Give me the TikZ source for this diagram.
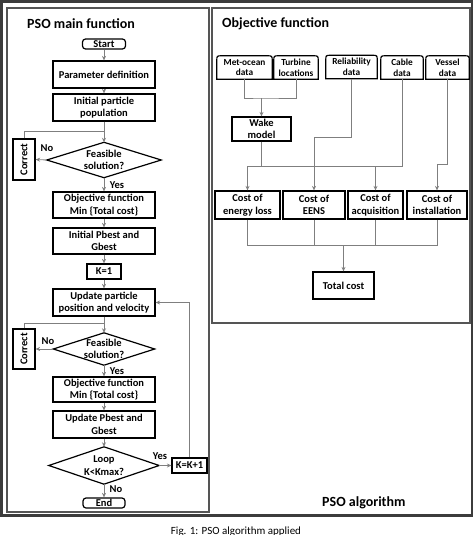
\documentclass[tikz,border=0pt]{standalone}
\usepackage{fontspec}
\setmainfont{Carlito}
\usepackage{graphicx}
\usetikzlibrary{arrows.meta}
\definecolor{conncol}{HTML}{7F7F7F}
\definecolor{framecol}{HTML}{3C3C3C}
\definecolor{panelcol}{HTML}{555555}
\newcommand\databox[1]{\draw[boxline] (#1.south west) -- ([yshift=-5pt]#1.north west) .. controls (#1.north west) .. ([xshift=5pt]#1.north west) -- ([xshift=-5pt]#1.north east) .. controls (#1.north east) .. ([yshift=-5pt]#1.north east) -- (#1.south east) -- cycle;}
\newcommand\diapath[1]{\draw[boxline] (#1.north) -- (#1.east) -- (#1.south) -- (#1.west) -- cycle;}
\begin{document}
\begin{tikzpicture}[x=1pt,y=-1pt,
  boxline/.style={draw=black,line width=1.2pt},
  box/.style 2 args={boxline, fill=white, align=center, inner sep=0pt, minimum width=#1pt, minimum height=#2pt, font=\bfseries\fontsize{10.5}{12.5}\selectfont},
  rbox/.style 2 args={box={#1}{#2}, rounded corners=3pt},
  dtxt/.style 2 args={align=center, inner sep=0pt, minimum width=#1pt, minimum height=#2pt, font=\bfseries\fontsize{9.3}{10.8}\selectfont},
  dia/.style 2 args={align=center, inner sep=0pt, minimum width=#1pt, minimum height=#2pt, font=\bfseries\fontsize{10.5}{12.5}\selectfont},
  conn/.style={draw=conncol, line width=0.8pt},
  arr/.style={conn, -{Stealth[length=4.5pt,width=4pt]}},
  lbl/.style={font=\bfseries\fontsize{10.5}{12}\selectfont, inner sep=0pt},
  ttl/.style={font=\bfseries\fontsize{14}{16}\selectfont, inner sep=0pt, anchor=west}]
\useasboundingbox (0,0) rectangle (474,535);
% frames
\draw[draw=framecol, line width=2.5pt] (1.5,1.5) rectangle (472,515.5);
\draw[draw=panelcol, line width=1.1pt] (7,8) rectangle (209,512);
\draw[draw=panelcol, line width=1.1pt] (212,8) rectangle (470,323);
% titles
\node[ttl] (t1) at (27,24) {PSO main function};
\node[ttl] (t2) at (222,24) {Objective function};
\node[ttl] (t3) at (322,503) {PSO algorithm};
\node[anchor=north, inner sep=0pt, font=\fontsize{11}{13}\selectfont] (cap) at (236,527) {Fig. 1: PSO algorithm applied};
% left column
\node[rbox={43}{10}] (start) at (104,44) {Start};
\node[box={102}{27}] (param) at (104,74.5) {Parameter definition};
\node[box={102}{27}] (init) at (104,107.5) {Initial particle\\population};
\node[dia={114}{35}] (f1) at (104,160) {Feasible\\solution?};
\diapath{f1}
\node[box={22}{41}] (c1) at (24,159.5) {\rotatebox{90}{Correct}};
\node[box={102}{26}] (obj1) at (104,205) {Objective function\\Min \{Total cost\}};
\node[box={102}{26}] (initp) at (104,241) {Initial Pbest and\\Gbest};
\node[box={34}{15}] (k1) at (104,271.5) {K=1};
\node[box={102}{27}] (upd) at (104,302.5) {Update particle\\position and velocity};
\node[dia={101}{32}] (f2) at (104,349) {Feasible\\solution?};
\diapath{f2}
\node[box={22}{40}] (c2) at (24,349) {\rotatebox{90}{Correct}};
\node[box={102}{25}] (obj2) at (104,389.5) {Objective function\\Min \{Total cost\}};
\node[box={102}{27}] (updp) at (104,424.5) {Update Pbest and\\Gbest};
\node[dia={110}{37}] (loop) at (104,465.5) {Loop\\K<Kmax?};
\diapath{loop}
\node[box={35}{15}] (kk) at (189.5,465.5) {K=K+1};
\node[rbox={42}{10}] (end) at (104,503) {End};
% left connectors
\draw[arr] (start) -- (param);
\draw[arr] (param) -- (init);
\draw[arr] (init) -- (f1.north);
\coordinate (j1) at (104,131);
\draw[conn] (c1.north) |- (j1);
\draw[arr] (f1.west) -- (c1.east);
\node[lbl] (no1) at (47,148) {No};
\draw[arr] (f1.south) -- (obj1);
\node[lbl] (yes1) at (117,185) {Yes};
\draw[arr] (obj1) -- (initp);
\draw[arr] (initp) -- (k1);
\draw[arr] (k1) -- (upd);
\draw[arr] (upd) -- (f2.north);
\coordinate (j2) at (104,323);
\draw[conn] (c2.north) |- (j2);
\draw[arr] (f2.west) -- (c2.east);
\node[lbl] (no2) at (48,341) {No};
\draw[arr] (f2.south) -- (obj2);
\node[lbl] (yes2) at (117,371) {Yes};
\draw[arr] (obj2) -- (updp);
\draw[arr] (updp) -- (loop.north);
\draw[arr] (loop.east) -- (kk.west);
\node[lbl] (yes3) at (160,456) {Yes};
\draw[arr] (kk.north) |- (upd.east);
\draw[arr] (loop.south) -- (end);
\node[lbl] (no3) at (116,489) {No};
% right column: data
\node[dtxt={55}{23}] (met) at (244.5,67.5) {Met-ocean\\data};
\databox{met}
\node[dtxt={44}{23}] (turb) at (296,67.5) {Turbine\\locations};
\databox{turb}
\node[dtxt={51}{23}] (rel) at (351.5,67) {Reliability\\data};
\databox{rel}
\node[dtxt={42}{23}] (cable) at (402,67.5) {Cable\\data};
\databox{cable}
\node[dtxt={43}{23}] (vessel) at (447.5,67.5) {Vessel\\data};
\databox{vessel}
\node[box={59}{24}] (wake) at (261.5,129) {Wake\\model};
\node[box={65}{28}] (ce) at (247.5,205) {Cost of\\energy loss};
\node[box={62}{28}] (ceens) at (314,205) {Cost of\\EENS};
\node[box={55}{28}] (cacq) at (375.5,205) {Cost of\\acquisition};
\node[box={60}{28}] (cinst) at (437,205) {Cost of\\installation};
\node[box={61}{27}] (total) at (343.5,285.5) {Total cost};
% right connectors
\coordinate (wj) at (261.5,98);
\draw[conn] (met.south) |- (wj) -| (turb.south);
\draw[arr] (wj) -- (wake.north);
\coordinate (ya) at (247.5,166);
\coordinate (yb) at (402,166);
\draw[conn] (wake.south) -- (wake.south |- ya);
\draw[conn] (cable.south) -- (yb) -- (ya);
\draw[arr] (ya) -- (ce.north);
\draw[arr] (cacq.north |- ya) -- (cacq.north);
\coordinate (rr) at (351.5,137);
\draw[arr] (rel.south) -- (rr) -| (ceens.north);
\coordinate (vv) at (447.5,164);
\draw[arr] (vessel.south) -- (vv) -| (cinst.north);
\coordinate (b1) at (247.5,245);
\coordinate (b2) at (437,245);
\draw[conn] (ce.south) -- (b1) -- (b2) -- (cinst.south);
\draw[conn] (ceens.south) -- (ceens.south |- b1);
\draw[conn] (cacq.south) -- (cacq.south |- b1);
\draw[arr] (total.north |- b1) -- (total.north);
\end{tikzpicture}
\end{document}
